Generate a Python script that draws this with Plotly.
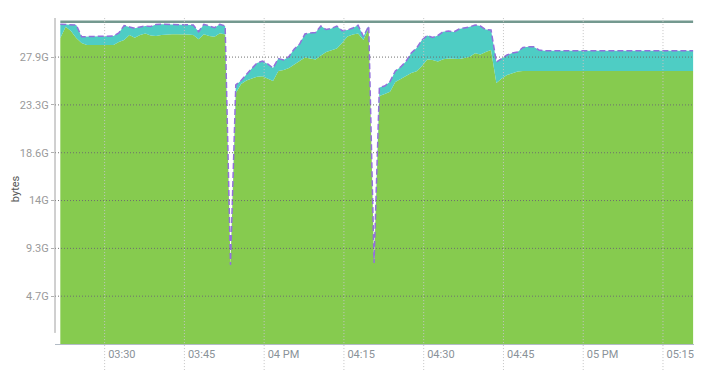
import pandas as pd
import plotly.graph_objects as go

# ---- data (values in G) ----
start_time = "2024-01-01 15:21:40"
n_points = 120
used = [
    29.76, 30.85, 30.44, 29.76, 29.27, 29.08, 29.08, 29.08, 29.08, 29.08,
    29.08, 29.37, 29.56, 30.05, 29.79, 30.05, 30.19, 30.00, 29.95, 30.05,
    30.10, 30.12, 30.12, 30.14, 30.10, 30.05, 29.63, 30.12, 29.95, 29.88,
    30.21, 30.10, 7.60, 24.41, 25.28, 25.62, 25.77, 25.99, 26.04, 25.77,
    25.57, 26.55, 26.64, 26.84, 27.18, 27.59, 27.86, 27.76, 27.67, 28.05,
    28.39, 28.56, 28.73, 29.27, 29.90, 30.10, 30.19, 29.56, 30.73, 7.80,
    24.12, 24.31, 24.53, 25.48, 25.77, 26.06, 26.35, 26.53, 27.03, 27.67,
    27.62, 27.47, 27.68, 27.76, 27.71, 27.71, 27.81, 27.93, 28.27, 28.15,
    28.39, 28.59, 25.38, 25.82, 26.16, 26.35, 26.50, 26.55, 26.55, 26.55,
    26.55, 26.55, 26.55, 26.55, 26.55, 26.55, 26.55, 26.55, 26.55, 26.55,
    26.55, 26.55, 26.55, 26.55, 26.55, 26.55, 26.55, 26.55, 26.55, 26.55,
    26.55, 26.55, 26.55, 26.55, 26.55, 26.55, 26.55, 26.55, 26.55, 26.55,
]
cached = [
    1.33, 0.24, 0.63, 1.26, 0.61, 0.80, 0.80, 0.80, 0.80, 0.80,
    0.87, 0.87, 1.41, 0.78, 0.91, 0.78, 0.73, 0.87, 1.12, 1.04,
    0.99, 0.97, 0.95, 0.93, 0.97, 0.97, 0.74, 0.97, 0.97, 0.88,
    0.88, 0.82, 0.08, 0.78, 0.34, 0.63, 1.02, 1.33, 1.48, 1.46,
    1.27, 1.21, 0.98, 1.12, 1.51, 1.58, 2.28, 2.48, 2.62, 2.87,
    2.19, 2.12, 2.19, 1.20, 0.63, 0.63, 0.81, 0.34, 0.19, 0.08,
    0.82, 0.78, 0.98, 1.07, 1.17, 1.41, 1.95, 2.25, 2.53, 2.33,
    2.18, 2.53, 2.68, 2.68, 2.63, 2.92, 2.92, 2.91, 2.75, 2.77,
    2.19, 1.94, 2.04, 1.94, 1.94, 1.95, 1.89, 2.28, 2.36, 2.36,
    2.04, 1.97, 1.97, 1.97, 1.97, 1.97, 1.97, 1.97, 1.97, 1.97,
    1.97, 1.97, 1.97, 1.97, 1.97, 1.97, 1.97, 1.97, 1.97, 1.97,
    1.97, 1.97, 1.97, 1.97, 1.97, 1.97, 1.97, 1.97, 1.97, 1.97,
]
memory_total = 31.33

y_tickvals = [4.65, 9.3, 13.95, 18.6, 23.25, 27.9]
y_ticktext = ["4.7G", "9.3G", "14G", "18.6G", "23.3G", "27.9G"]
x_tickvals = ["2024-01-01 15:30", "2024-01-01 15:45", "2024-01-01 16:00",
              "2024-01-01 16:15", "2024-01-01 16:30", "2024-01-01 16:45",
              "2024-01-01 17:00", "2024-01-01 17:15"]
x_ticktext = ["03:30", "03:45", "04 PM", "04:15", "04:30", "04:45", "05 PM", "05:15"]
x_range = ["2024-01-01 15:20:40", "2024-01-01 17:20:50"]
y_range = [0, 31.7]

times = pd.date_range(start_time, periods=n_points, freq="1min")

GREEN = "#86cb4f"
TEAL = "#4ecdc4"
PURPLE = "#9370db"

fig = go.Figure()
fig.add_trace(go.Scatter(
    x=times, y=used, stackgroup="mem", mode="lines",
    line=dict(width=0, color=GREEN), fillcolor=GREEN, name="used",
))
fig.add_trace(go.Scatter(
    x=times, y=cached, stackgroup="mem", mode="lines",
    line=dict(width=1.5, color=PURPLE, dash="6px,3px"), fillcolor=TEAL, name="cached",
))
fig.add_trace(go.Scatter(
    x=[times[0], times[-1]], y=[memory_total, memory_total], mode="lines",
    line=dict(width=2.5, color="#74998f"), name="total",
))

shapes = []
for v in y_tickvals:
    shapes.append(dict(type="line", xref="paper", x0=0, x1=1, yref="y", y0=v, y1=v,
                       line=dict(color="#6f6f6f", width=1, dash="1px,2px"), layer="above"))
for v in x_tickvals:
    shapes.append(dict(type="line", xref="x", x0=v, x1=v, yref="paper", y0=-0.08, y1=1,
                       line=dict(color="#c4c4c4", width=1, dash="1px,2px"), layer="above"))
# y axis line (short of the bottom, as in the reference)
shapes.append(dict(type="line", xref="paper", x0=0, x1=0, yref="paper", y0=0.034, y1=1.0,
                   line=dict(color="#a0a0a0", width=1), layer="above"))

# the page body has an 8px default margin, so the figure is offset by 8px
fig.update_layout(
    width=697, height=362,
    margin=dict(l=47, r=11, t=10, b=26, autoexpand=False),
    paper_bgcolor="white", plot_bgcolor="white",
    showlegend=False,
    font=dict(family="Roboto", size=11, color="#999999"),
    shapes=shapes,
    xaxis=dict(
        type="date", range=x_range, tickvals=x_tickvals, ticktext=x_ticktext,
        showgrid=False, zeroline=False, showline=True, linecolor="#b3bcc6", linewidth=1,
        ticks="", ticklabelposition="outside right", ticklabelshift=3, automargin=False,
        tickfont=dict(family="Roboto", size=11, color="#8a9299"),
    ),
    yaxis=dict(
        range=y_range, tickvals=y_tickvals, ticktext=y_ticktext,
        showgrid=False, zeroline=False, showline=False, automargin=False,
        ticks="outside", ticklen=3, tickcolor="#b0b0b0",
        tickfont=dict(family="Roboto", size=11, color="#9a9a9a"),
    ),
    annotations=[dict(
        text="bytes", xref="paper", yref="paper", x=0, y=0.475, xshift=-40,
        xanchor="center", yanchor="middle", textangle=-90, showarrow=False,
        font=dict(family="Roboto", size=11, color="#555555"),
    )],
)

fig.write_html("out.html")
